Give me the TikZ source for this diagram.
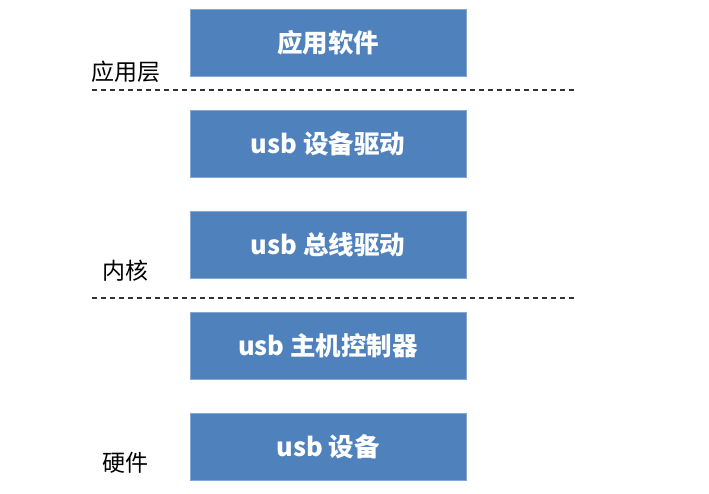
\documentclass[tikz,border=0pt]{standalone}
\usepackage{fontspec}
\newfontfamily\cjk{Noto Sans CJK SC}
\definecolor{layerblue}{HTML}{4F81BD}
\tikzset{
    layerbox/.style={rectangle, fill=layerblue, draw=layerblue!70!white, minimum width=276pt, minimum height=67pt, inner sep=0pt, text=white, font=\cjk\bfseries\fontsize{25.5}{30}\selectfont},
    layername/.style={inner sep=0pt, font=\cjk\fontsize{23}{27}\selectfont},
    separator/.style={dash pattern=on 5pt off 4pt, line width=1.1pt, black!80}
}
\begin{document}
\begin{tikzpicture}[x=1pt,y=-1pt]
        \useasboundingbox (0,0) rectangle (709,494);
        
        % Draw the stack of boxes, top to bottom
        \foreach \t [count=\j from 0] in {应用软件, usb 设备驱动, usb 总线驱动, usb 主机控制器, usb 设备} {
            \node[layerbox] (box\j) at (328, {42.5+101*\j}) {\t};
 }
        
        % Layer names on the left
        \node[layername] (app) at (126, 72) {应用层};
        \node[layername] (kernel) at (125, 271) {内核};
        \node[layername] (hw) at (125, 463) {硬件};
        
        % Dashed separators between the layers
        \coordinate (sep1a) at (92, 90);
        \coordinate (sep1b) at (577, 90);
        \coordinate (sep2a) at (92, 298);
        \coordinate (sep2b) at (577, 298);
        \draw[separator] (sep1a) -- (sep1b);
        \draw[separator] (sep2a) -- (sep2b);
    \end{tikzpicture}
\end{document}
